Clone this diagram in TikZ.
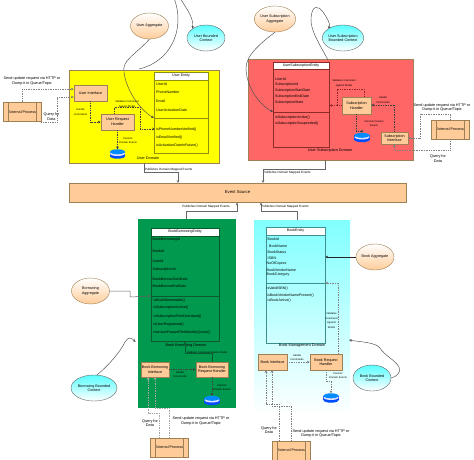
\documentclass[tikz,border=0pt]{standalone}
\usepackage{fontspec}
\setmainfont{Liberation Sans}
\usetikzlibrary{arrows.meta,shapes.geometric,calc}
\definecolor{boxorange}{HTML}{FFCC99}
\definecolor{boxedge}{HTML}{9E8055}
\definecolor{domyellow}{HTML}{FFFF00}
\definecolor{domred}{HTML}{FF6666}
\definecolor{domgreen}{HTML}{00994D}
\definecolor{domcyan}{HTML}{80FFFF}
\definecolor{edgeyellow}{HTML}{8F8F10}
\definecolor{edgered}{HTML}{8F2A2A}
\definecolor{edgegreen}{HTML}{0A5A30}
\definecolor{edgecyan}{HTML}{3F8F8F}
\tikzset{
  >={Stealth[length=2.8pt,width=2.6pt]},
  lbl/.style={inner sep=0pt, align=center, font=\fontsize{3.8}{4.7}\selectfont},
  tiny lbl/.style={inner sep=0pt, align=center, font=\fontsize{2.6}{4.6}\selectfont},
  attr/.style={inner sep=0pt, anchor=west, font=\fontsize{3.6}{4.4}\selectfont},
  domainbox/.style={draw=boxedge, line width=.5pt, inner sep=0pt},
  procbox/.style={draw=boxedge, line width=.6pt, fill=boxorange, inner sep=0pt, align=center, font=\fontsize{3.7}{4.6}\selectfont},
  entbox/.style={draw, line width=.5pt, inner sep=0pt},
  enthead/.style={draw, line width=.5pt, fill=white, inner sep=0pt, font=\fontsize{3.6}{4.4}\selectfont},
  aggr/.style={ellipse, draw=boxedge, line width=.4pt, top color=white, bottom color=boxorange, minimum width=38pt, minimum height=26pt, inner sep=0pt, align=center, font=\fontsize{3.7}{4.6}\selectfont},
  ctxt/.style={ellipse, draw=black!60, line width=.4pt, top color=cyan!65, bottom color=white, minimum width=38pt, minimum height=26pt, inner sep=0pt, align=center, font=\fontsize{3.7}{4.6}\selectfont},
  dbase/.style={inner sep=0pt, minimum width=15pt, minimum height=9pt},
  ext/.style={draw=gray, dashed, dash pattern=on 1pt off .7pt, line width=.4pt, ->},
  inner/.style={draw=black!75, dashed, dash pattern=on 1pt off .7pt, line width=.4pt, ->},
  pub/.style={draw=black!60, line width=.5pt, ->},
  curve/.style={draw=black!70, line width=.45pt, ->},
}
\begin{document}
\begin{tikzpicture}[x=1pt, y=-1pt]
  \clip (0,0) rectangle (474,460);
  \fill[white] (0,0) rectangle (474,460);

  % domains
  \node[domainbox, fill=domyellow, minimum width=150pt, minimum height=93pt] (udom) at (144,116.5) {};
  \node[domainbox, fill=domred, minimum width=165pt, minimum height=101pt] (sdom) at (330.5,109.5) {};
  \node[domainbox, fill=domgreen, draw=domgreen, minimum width=97pt, minimum height=188pt] (bdom) at (186.5,313) {};
  \node[inner sep=0pt, top color=domcyan, bottom color=white, minimum width=96pt, minimum height=195pt] (mdom) at (302,317.5) {};
  \node[procbox, minimum width=337pt, minimum height=19pt, font=\fontsize{4.2}{5}\selectfont] (evsrc) at (237.5,192.5) {Event Source};

  % user domain
  \node[entbox, draw=edgeyellow, minimum width=54pt, minimum height=81pt] (uent) at (181,112.5) {};
  \node[enthead, draw=edgeyellow, minimum width=54pt, minimum height=8pt] (uhead) at (181,76) {User Entity};
  \coordinate (usep) at (154,118);
  \draw[draw=edgeyellow, line width=.5pt] (usep) -- (usep -| uent.east);
  \foreach \txt/\yy [count=\i] in {UserId/84.5, PhoneNumber/92.5, Email/101.5, UserActivationDate/110, isPhoneNumberVerified()/129.5, isEmailVerified()/138, isActivationDateInFuture()/146}
    \node[attr] (uattr\i) at (156,\yy) {\txt};
  \node[procbox, minimum width=33pt, minimum height=16pt] (uif) at (90.5,93) {User Interface};
  \node[procbox, minimum width=33pt, minimum height=16pt] (uhdl) at (117.5,122) {User Request\\Handler};
  \node[dbase] (udb) at (117.5,154) {};
  \node[procbox, minimum width=38pt, minimum height=19pt] (uext) at (22,112) {External Process};
  \node[aggr] (uagg) at (149.5,26) {User Aggregate};
  \node[ctxt] (uctx) at (206,38) {User Bounded\\Context};
  \node[lbl] (usend) at (32,81) {Send update request via HTTP or\\Dump it in Queue/Topic};
  \node[lbl] (uqry) at (51.5,116.5) {Query for\\Data};
  \node[tiny lbl] (ucmd) at (80.5,112) {Handle\\Commands};
  \node[tiny lbl] (uval) at (127,104.5) {Validates Command\\Against Model};
  \node[tiny lbl] (uper) at (128,140.5) {Persists\\Domain Events};
  \node[lbl] (uname) at (148,158) {User Domain};
  \node[inner sep=0pt, font=\fontsize{3.1}{4}\selectfont] (upub) at (168.5,170) {Publishes Domain Mapped Events};

  \draw[ext] (uext.north) |- ($(uif.west)+(0,-4)$);
  \draw[ext] (uext.south east) -- ++(16,0) |- ($(uif.west)+(0,4)$);
  \draw[inner] (uif.south) |- (uhdl.west);
  \draw[inner] (uhdl.south) -- (udb.north);
  \draw[inner] ($(uhdl.north)+(-3,0)$) |- (140,107) |- (155,129);
  \draw[curve] (uagg.south) .. controls (135,55) and (122,60) .. (124,72) .. controls (126,90) and (140,110) .. (usep);
  \draw[curve] (139,69) .. controls (170,62) and (186,30) .. (174,-2) .. controls (176,-10) and (178,-6) .. (180,-2) .. controls (186,8) and (194,18) .. (uctx.north west);
  \draw[pub] (udom.south) |- (178,172) -- (178,183);

  % subscription domain
  \node[entbox, draw=edgered, minimum width=56pt, minimum height=85pt] (sent) at (301,104.5) {};
  \node[enthead, draw=edgered, minimum width=56pt, minimum height=7pt] (shead) at (301,65.5) {UserSubscriptionEntity};
  \coordinate (ssep) at (273,112);
  \draw[draw=edgered, line width=.5pt] (ssep) -- (ssep -| sent.east);
  \foreach \txt/\yy [count=\i] in {UserId/79, SubscriptionId/85, SubscriptionStartDate/91, SubscriptionEndDate/97, SubscriptionState/103, isSubscriptionActive()/118, isSubscriptionSuspended()/124}
    \node[attr] (sattr\i) at (275,\yy) {\txt};
  \node[procbox, minimum width=29pt, minimum height=17pt] (shdl) at (356.5,105.5) {Subscription\\Handler};
  \node[procbox, minimum width=27pt, minimum height=12pt] (sif) at (394.5,138) {Subscription\\Interface};
  \node[dbase] (sdb) at (362,137.5) {};
  \node[procbox, minimum width=38pt, minimum height=19pt] (sext) at (450,129.5) {External Process};
  \node[aggr] (sagg) at (275,19) {User Subscription\\Aggregate};
  \node[ctxt] (sctx) at (343,38) {User Subscription\\Bounded Context};
  \node[lbl] (ssend) at (442,107.5) {Send update request via HTTP or\\Dump it in Queue/Topic};
  \node[lbl] (sqry) at (438,158.5) {Query for\\Data};
  \node[tiny lbl] (scmd) at (383,100) {Handle\\Commands};
  \node[tiny lbl] (sval) at (344,83.5) {Validates Command\\Against Model};
  \node[tiny lbl] (sper) at (374,123.5) {Persists Domain\\Events};
  \node[lbl] (sname) at (330,151) {User Subscription Domain};
  \node[inner sep=0pt, font=\fontsize{3.1}{4}\selectfont] (spub) at (287,173) {Publishes Domain Mapped Events};

  \draw[ext] (sext.north) |- (420,114) |- (sif.east);
  \draw[ext] (sext.south) |- (sif.south |- 0,150) -- (sif.south);
  \draw[inner] (sif.north) |- ($(shdl.east)+(0,-.5)$);
  \draw[inner] ($(shdl.south)+(-.5,0)$) |- (sdb.north |- 0,131) -- (sdb.north);
  \draw[inner, draw=edgered] (shdl.west) -- (shdl.west -| sent.east);
  \draw[inner, draw=edgered, -] ($(shdl.north)+(7.5,0)$) |- (337,89) -- (337,105.5);
  \draw[curve] (sagg.south) .. controls (262,42) and (246,55) .. (246,68) .. controls (246,85) and (258,104) .. (ssep);
  \draw[curve] (328,60) .. controls (320,45) and (310,30) .. (311,18) .. controls (312,5) and (318,5) .. (323,12) .. controls (327,18) and (331,24) .. (sctx.north west);
  \draw[pub] (325,160) |- (263,169) -- (263,183);

  % borrowing domain
  \node[entbox, draw=edgegreen, minimum width=68pt, minimum height=113pt] (bent) at (185,284.5) {};
  \node[enthead, draw=edgegreen, minimum width=68pt, minimum height=8pt] (bhead) at (185,232) {BookBorrowingEntity};
  \coordinate (bsep) at (151,296);
  \draw[draw=edgegreen, line width=.5pt] (bsep) -- (bsep -| bent.east);
  \foreach \txt/\yy [count=\i] in {BookBorrowingId/240, BookId/251, UserId/261, SubscriptionId/270, BookBorrowStartDate/279.5, BookBorrowEndDate/286}
    \node[attr] (battr\i) at (152.5,\yy) {\txt};
  \foreach \txt/\yy [count=\i] in {isBookBorrowable()/301, isSubscriptionActive()/307.5, isSubscriptionFineOverdued()/317, isUserRegistered()/325, hasUserPassedTheMonthlyQuota()/333}
    \node[attr] (bmeth\i) at (153.5,\yy) {\txt};
  \node[procbox, minimum width=28pt, minimum height=15pt] (bif) at (155,369.5) {Book Borrowing\\Interface};
  \node[procbox, minimum width=32pt, minimum height=15pt] (bhdl) at (212,369.5) {Book Borrowing\\Request Handler};
  \node[dbase] (bdb) at (212,400.5) {};
  \node[procbox, minimum width=38pt, minimum height=19pt] (bext) at (169,447.5) {External Process};
  \node[aggr] (bagg) at (90.5,291) {Borrowing\\Aggregate};
  \node[ctxt] (bctx) at (94,388) {Borrowing Bounded\\Context};
  \node[lbl] (bsend) at (201,421) {Send update request via HTTP or\\Dump it in Queue/Topic};
  \node[lbl] (bqry) at (150,423) {Query for\\Data};
  \node[tiny lbl] (bcmd) at (180,374.5) {Handle\\Commands};
  \node[tiny lbl] (bval) at (207,353) {Validates Command Against Model};
  \node[tiny lbl] (bper) at (222,387.5) {Persists\\Domain Events};
  \node[lbl] (bname) at (186,346) {Book Borrowing Domain};
  \node[inner sep=0pt, font=\fontsize{3.1}{4}\selectfont] (bpub) at (206,207) {Publishes Domain Mapped Events};

  \draw[ext, draw=black!35] ($(bext.north)+(-10,0)$) |- (148,413) -- (148,377);
  \draw[ext, draw=black!35] (bext.north) |- (155,408) -- (155,377);
  \draw[inner] (bif.east) -- (bhdl.west);
  \draw[inner] (bhdl.south) -- (bdb.north);
  \draw[inner, draw=edgegreen, solid] (bhdl.north) |- (185,353) -- (bent.south);
  \draw[pub] (bagg.east) -| (130,297) -- (bsep);
  \draw[curve] (97,375) .. controls (110,364) and (120,352) .. (125,342) .. controls (128,337) and (131,337) .. (135.5,342);
  \draw[pub] (bdom.north) |- (237,211) -- (237,202.5);

  % book management domain
  \node[entbox, draw=edgecyan, minimum width=59pt, minimum height=116pt] (ment) at (295.5,285) {};
  \node[enthead, draw=edgecyan, minimum width=59pt, minimum height=8pt] (mhead) at (295.5,231) {BookEntity};
  \coordinate (msep) at (266,283);
  \draw[draw=edgecyan, line width=.5pt] (msep) -- (msep -| ment.east);
  \foreach \txt/\xx/\yy [count=\i] in {BookId/267.5/239, BookName/269/246, BookStatus/267.5/252, ISBN/267.5/258, NoOfCopies/266.5/264, BookVendorName/266.5/270, BookCategory/266.5/275, isValidISBN()/266.5/289, isBookVendorNamePresent()/267/295.5, isBookActive()/267.5/301}
    \node[attr] (mattr\i) at (\xx,\yy) {\txt};
  \node[procbox, minimum width=29pt, minimum height=16pt] (mif) at (272.5,362) {Book Interface};
  \node[procbox, minimum width=32pt, minimum height=16pt] (mhdl) at (326,362) {Book Request\\Handler};
  \node[dbase] (mdb) at (331,398) {};
  \node[procbox, minimum width=38pt, minimum height=19pt] (mext) at (291,450.5) {External Process};
  \node[aggr] (magg) at (375,257) {Book Aggregate};
  \node[ctxt] (mctx) at (372,378) {Book Bounded\\Context};
  \node[lbl] (msend) at (321,433.5) {Send update request via HTTP or\\Dump it in Queue/Topic};
  \node[lbl] (mqry) at (269,430) {Query for\\Data};
  \node[tiny lbl] (mcmd) at (297,357.5) {Handle\\Commands};
  \node[tiny lbl] (mval) at (331.5,320.5) {Validates\\Command\\Against\\Model};
  \node[tiny lbl] (mper) at (338,375.5) {Persists\\Domain Events};
  \node[lbl] (mname) at (302,346) {Book Management Domain};
  \node[inner sep=0pt, font=\fontsize{3.1}{4}\selectfont] (mpub) at (285,207) {Publishes Domain Mapped Events};

  \draw[ext] ($(mext.north)+(-12,0)$) |- (266,404) -- (266,370);
  \draw[ext] (mext.north) |- (272,406) -- (272,370);
  \draw[inner, draw=gray] (mif.east) -- (mhdl.west);
  \draw[inner, draw=gray] (mhdl.south) |- (mdb.north |- 0,381) -- (mdb.north);
  \draw[inner, draw=gray] (338,354) |- (msep -| ment.east);
  \draw[pub, draw=black!85] (magg.west) -- (magg.west -| ment.east);
  \draw[curve] (mctx.east) .. controls (396,377) and (402,372) .. (399,367) .. controls (395,360) and (384,355) .. (380,348) .. controls (375,342) and (360,342) .. (349,340);
  \draw[pub] (297,220) |- (261,211) -- (261,202.5);

  % bars of the external process boxes
  \foreach \e in {uext,sext,bext,mext} {
    \draw[boxedge, line width=.4pt] ($(\e.north west)+(5,0)$) -- ($(\e.south west)+(5,0)$);
    \draw[boxedge, line width=.4pt] ($(\e.north east)+(-5,0)$) -- ($(\e.south east)+(-5,0)$);
  }
  % database drums
  \foreach \d in {udb,sdb,bdb,mdb} {
    \fill[blue!70!cyan] ($(\d.south)+(0,-2.5)$) ellipse[x radius=7.5pt, y radius=2.5pt];
    \fill[blue!70!cyan] ($(\d.north west)+(0,2.5)$) rectangle ($(\d.south east)+(0,-2.5)$);
    \fill[blue!12!white] ($(\d.north)+(0,4.2)$) ellipse[x radius=7.5pt, y radius=2.5pt];
    \fill[blue!45!cyan] ($(\d.north)+(0,2.5)$) ellipse[x radius=7.5pt, y radius=2.5pt];
  }
\end{tikzpicture}
\end{document}
